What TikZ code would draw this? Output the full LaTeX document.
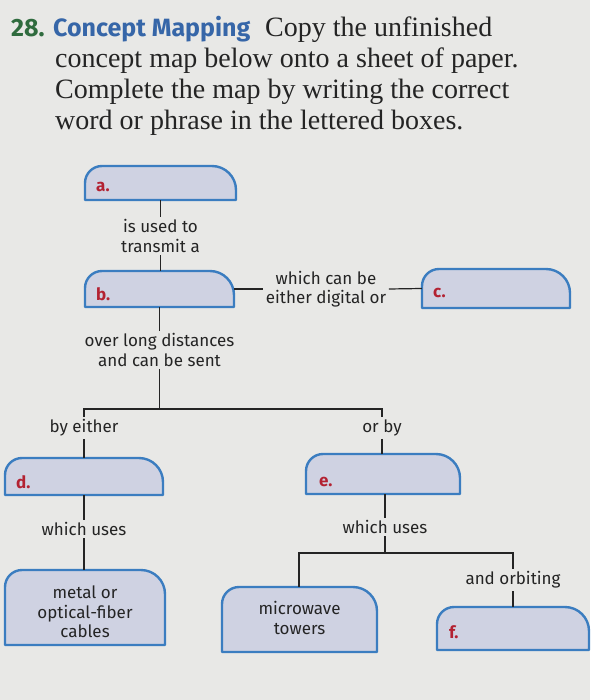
\documentclass[tikz,border=0pt]{standalone}
\usepackage{fontspec}
\setmainfont{Liberation Serif}
\newfontfamily\labfont{Fira Sans}
\newfontfamily\headfont{Fira Sans}
\usetikzlibrary{calc}
\definecolor{paper}{HTML}{E8E8E6}
\definecolor{boxfill}{HTML}{CFD2E2}
\definecolor{boxedge}{HTML}{3B7DC0}
\definecolor{ink}{HTML}{242424}
\definecolor{letterred}{HTML}{B32232}
\definecolor{numgreen}{HTML}{2F6B3E}
\definecolor{headblue}{HTML}{3666A8}
% box with rounded top corners: name, x1, y1, x2, y2
\newcommand\cmbox[5]{%
  \filldraw[boxstyle] (#2,#5) -- (#2,#3+17)
    .. controls (#2,#3+7.6) and (#2+7.6,#3) .. (#2+17,#3)
    -- (#4-24,#3)
    .. controls (#4-10.75,#3) and (#4,#3+10.75) .. (#4,#3+24)
    -- (#4,#5) -- cycle;
  \node[boxnode,minimum width={#4pt-#2pt},minimum height={#5pt-#3pt}]
    (#1) at ({(#2+#4)/2},{(#3+#5)/2}) {};}
\begin{document}
\begin{tikzpicture}[x=1pt,y=-1pt,
  boxstyle/.style={fill=boxfill,draw=boxedge,line width=2.4pt,line join=round},
  boxnode/.style={rectangle,inner sep=0pt,draw=none},
  lab/.style={font=\labfont\fontsize{17}{19.5}\selectfont,text=ink,align=center,inner sep=2.5pt},
  letter/.style={font=\headfont\bfseries\fontsize{17}{18}\selectfont,text=letterred,
    anchor=base west,inner sep=0pt},
  conn/.style={draw=ink,line width=1.2pt},
  title/.style={font=\fontsize{28}{31}\selectfont,text=ink,anchor=base west,inner sep=0pt},
  head/.style={font=\headfont\bfseries\fontsize{25}{31}\selectfont,anchor=base west,inner sep=0pt}]
\fill[paper] (0,0) rectangle (590,700);
\useasboundingbox (0,0) rectangle (590,700);
% title
\node[head,text=numgreen] (num) at (11,37) {28.};
\node[head,text=headblue] (hd) at (53,37) {Concept Mapping};
\node[title] (l1) at (265,37) {Copy the unfinished};
\node[title] (l2) at (55,68) {concept map below onto a sheet of paper.};
\node[title] (l3) at (55,99) {Complete the map by writing the correct};
\node[title] (l4) at (55,130) {word or phrase in the lettered boxes.};
% boxes
\cmbox{a}{85}{166}{236}{200}
\cmbox{b}{85}{271}{234}{307}
\cmbox{c}{422}{269}{570}{308}
\cmbox{d}{5}{458}{163}{495}
\cmbox{e}{306}{454}{460}{494}
\cmbox{m}{5}{570}{165}{645}
\cmbox{w}{222}{587}{377}{652}
\cmbox{f}{437}{607}{589}{650}
\node[lab] (mt) at (85,612) {metal or\\optical-fiber\\cables};
\node[lab] (wt) at (299.5,618) {microwave\\towers};
% letters
\node[letter] (la) at (96,192) {a.};
\node[letter] (lb) at (96,300) {b.};
\node[letter] (lc) at (433,297) {c.};
\node[letter] (ld) at (16,488) {d.};
\node[letter] (le) at (319,486) {e.};
\node[letter] (lf) at (449,638) {f.};
% linking phrases
\node[lab] (t1) at (160.5,236) {is used to\\transmit a};
\node[lab] (t2) at (326,289) {which can be\\either digital or};
\node[lab] (t3) at (159.5,350) {over long distances\\and can be sent};
\node[lab] (lby) at (84,428) {by either};
\node[lab] (lorby) at (382,428) {or by};
\node[lab] (wl) at (84,529) {which uses};
\node[lab] (wr) at (385,527) {which uses};
\node[lab] (orb) at (513,580) {and orbiting};
\coordinate (j1) at (159.5,409);
\coordinate (j2) at (385,553);
% connectors
\draw[conn] (a.south) -- (t1.north);
\draw[conn] (t1.south) -- (t1.south |- b.north);
\draw[conn] (b.east) -- (t2.west);
\draw[conn] (t2.east) -- (c.west);
\draw[conn] (b.south) -- (b.south |- t3.north);
\draw[conn] (t3.south) -- (j1);
\draw[conn] (lby.north) |- (j1) -| (lorby.north);
\draw[conn] (lby.south) -- (lby.south |- d.north);
\draw[conn] (lorby.south) -- (lorby.south |- e.north);
\draw[conn] (d.south -| wl.north) -- (wl.north);
\draw[conn] (wl.south) -- (wl.south |- m.north);
\draw[conn] (e.south -| wr.north) -- (wr.north);
\draw[conn] (wr.south) -- (j2);
\draw[conn] (w.north -| 299,0) |- (j2) -| (orb.north);
\draw[conn] (orb.south) -- (orb.south |- f.north);
\end{tikzpicture}
\end{document}
